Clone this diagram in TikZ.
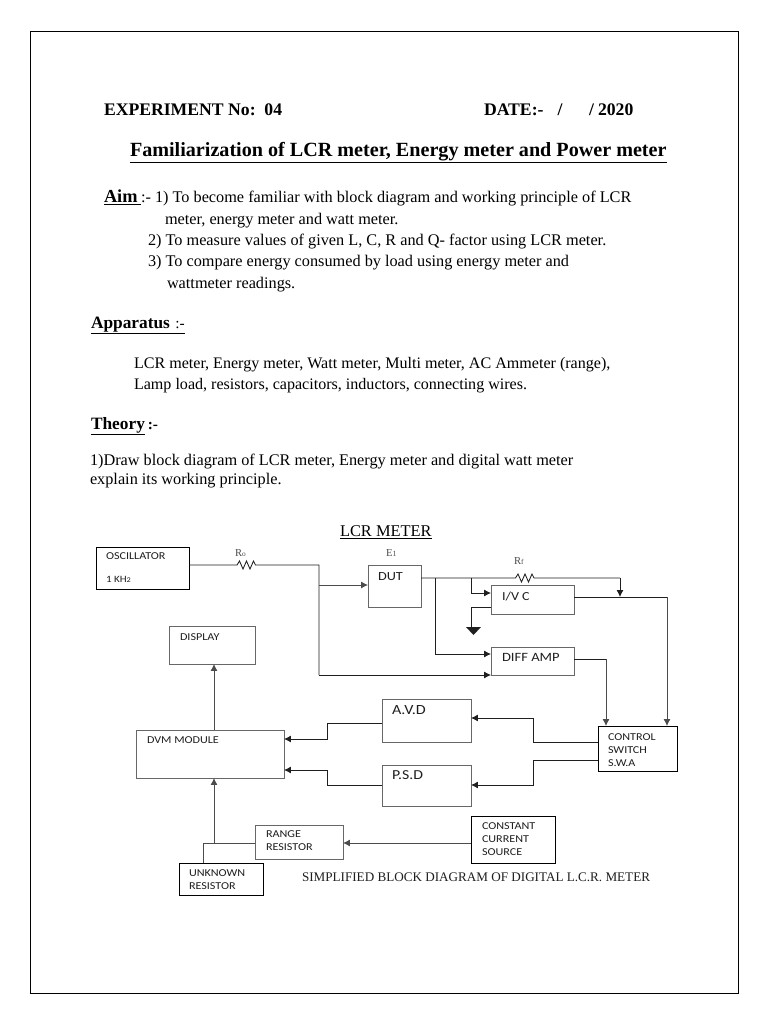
\documentclass[tikz,border=0pt]{standalone}
\usepackage{fontspec}
\setmainfont{Liberation Serif}
\newfontfamily\boxfont[FakeStretch=1.15]{Carlito}
\usetikzlibrary{arrows.meta}
\definecolor{inkc}{gray}{0.12}
\definecolor{softc}{gray}{0.3}
\newcommand{\bx}[6][blk]{\node[#1,minimum width={(#5-#3)*0.75pt},minimum height={(#6-#4)*0.75pt}] (#2) at ({(#3+#5)/2},{(#4+#6)/2}) {};}
\newcommand{\bodyf}{\fontsize{12.2pt}{14pt}\selectfont}
\tikzset{
  x=0.75pt,y=-0.75pt,
  blk/.style={draw=softc!85,line width=0.6pt,inner sep=0pt,outer sep=0pt},
  blkdark/.style={draw=black,line width=0.6pt,inner sep=0pt,outer sep=0pt},
  wire/.style={draw=inkc,line width=0.65pt},
  arr/.style={wire,-{Latex[length=5.2pt,width=5.2pt]}},
  txt/.style={anchor=base west,inner sep=0pt,outer sep=0pt,text=black},
  lbl/.style={anchor=base west,inner sep=0pt,outer sep=0pt,text=inkc,font=\boxfont\fontsize{7.9pt}{9pt}\selectfont},
}
\begin{document}
\begin{tikzpicture}
\useasboundingbox (0,0) rectangle (768,1024);
\fill[white] (0,0) rectangle (768,1024);
\draw[black,line width=0.6pt] (30,31) rectangle (738,993);
% headings
\node[txt,font=\bfseries\fontsize{13.25pt}{16pt}\selectfont] (h1) at (104,115) {EXPERIMENT No:\ \ 04};
\node[txt,font=\bfseries\fontsize{13.25pt}{16pt}\selectfont] (h2) at (484,115) {DATE:-\hspace{10.5pt}/\hspace{20pt}/\hspace{3pt}2020};
\node[txt,font=\bfseries\fontsize{15.1pt}{17pt}\selectfont] (h3) at (130,156) {\underline{Familiarization of LCR meter, Energy meter and Power meter}};
\node[txt,font=\bfseries\fontsize{13.75pt}{17pt}\selectfont] (aim) at (104,202) {\underline{Aim\,}};
\node[txt,font=\bodyf] (a1) at (141,202) {:- 1) To become familiar with block diagram and working principle of LCR};
\node[txt,font=\bodyf] (a2) at (165,224) {meter, energy meter and watt meter.};
\node[txt,font=\bodyf] (a3) at (148,245) {2) To measure values of given L, C, R and Q- factor using LCR meter.};
\node[txt,font=\bodyf] (a4) at (148,266) {3) To compare energy consumed by load using energy meter and};
\node[txt,font=\bodyf] (a5) at (167,288) {wattmeter readings.};
\node[txt,font=\bfseries\fontsize{13pt}{15pt}\selectfont] (app) at (91,328) {\underline{Apparatus\,\fontsize{11.5pt}{14pt}\selectfont{\mdseries\,:-}}};
\node[txt,font=\fontsize{12.05pt}{14pt}\selectfont] (b1) at (134,368) {LCR meter, Energy meter, Watt meter, Multi meter, AC Ammeter (range),};
\node[txt,font=\fontsize{12.05pt}{14pt}\selectfont] (b2) at (134,389) {Lamp load, resistors, capacitors, inductors, connecting wires.};
\node[txt,font=\bfseries\fontsize{13pt}{15pt}\selectfont] (th) at (91,429) {\underline{Theory}\,\fontsize{11.5pt}{14pt}\selectfont :-};
\node[txt,font=\bodyf] (c1) at (90,465) {1)Draw block diagram of LCR meter, Energy meter and digital watt meter};
\node[txt,font=\bodyf] (c2) at (90,484) {explain its working principle.};
% diagram title
\node[txt,font=\fontsize{12.3pt}{14pt}\selectfont] (t) at (340,536) {\underline{LCR METER}};
\node[txt,text=softc,font=\fontsize{8pt}{9pt}\selectfont] (e1) at (386,556) {E\fontsize{6pt}{7pt}\selectfont 1};
\node[txt,text=softc,font=\fontsize{8pt}{9pt}\selectfont] (ro) at (235,556) {R\fontsize{5.5pt}{6pt}\selectfont o};
\node[txt,text=softc,font=\fontsize{8pt}{9pt}\selectfont] (rf) at (514,564) {R\fontsize{5.5pt}{6pt}\selectfont f};
\node[txt,text=inkc,font=\fontsize{9.85pt}{11pt}\selectfont] (cap) at (302,881) {SIMPLIFIED BLOCK DIAGRAM OF DIGITAL L.C.R. METER};
% boxes
\bx[blkdark]{osc}{96}{547}{189}{589}
\bx{disp}{169}{626}{255}{664}
\bx{dut}{368}{565}{421}{607}
\bx{ivc}{491}{585}{574}{614}
\bx{diff}{491}{647}{574}{675}
\bx{dvm}{136}{730}{284}{778}
\bx{avd}{382}{699}{471}{742}
\bx{psd}{382}{765}{471}{806}
\bx[blkdark]{ctl}{598}{726}{677}{771}
\bx{rng}{255}{825}{343}{859}
\bx[blkdark]{ccs}{471}{816}{555}{863}
\bx[blkdark]{unk}{179}{863}{263}{895}
% labels
\node[lbl] (l1) at (106,559) {OSCILLATOR};
\node[lbl,font=\boxfont\fontsize{7.2pt}{8pt}\selectfont] (l2) at (106,582) {1 KH\fontsize{5.4pt}{6pt}\selectfont 2};
\node[lbl] (l3) at (180,640) {DISPLAY};
\node[lbl,font=\boxfont\fontsize{9.3pt}{10pt}\selectfont] (l4) at (378,580) {DUT};
\node[lbl,font=\boxfont\fontsize{9.2pt}{10pt}\selectfont] (l5) at (502,600) {I/V C};
\node[lbl,font=\boxfont\fontsize{9.5pt}{10pt}\selectfont] (l6) at (502,661) {DIFF AMP};
\node[lbl] (l7) at (147,743) {DVM MODULE};
\node[lbl,font=\boxfont\fontsize{10.5pt}{11pt}\selectfont] (l8) at (392,714) {A.V.D};
\node[lbl,font=\boxfont\fontsize{10.3pt}{11pt}\selectfont] (l9) at (392,779) {P.S.D};
\node[lbl] (l10) at (608,740) {CONTROL};
\node[lbl] (l11) at (608,753) {SWITCH};
\node[lbl] (l12) at (608,766) {S.W.A};
\node[lbl] (l13) at (266,837) {RANGE};
\node[lbl] (l14) at (266,850) {RESISTOR};
\node[lbl] (l15) at (482,829) {CONSTANT};
\node[lbl] (l16) at (482,842) {CURRENT};
\node[lbl] (l17) at (482,855) {SOURCE};
\node[lbl] (l18) at (189,876) {UNKNOWN};
\node[lbl] (l19) at (189,889) {RESISTOR};
% junctions
\coordinate (j1) at (319,565);
\coordinate (j2) at (319,585);
\coordinate (j3) at (319,675);
\coordinate (j4) at (421,578);
\coordinate (j5) at (435,578);
\coordinate (j6) at (435,654);
\coordinate (j7) at (471,578);
\coordinate (j8) at (471,593);
\coordinate (j9) at (620,578);
\coordinate (j10) at (620,597);
\coordinate (j11) at (667,597);
\coordinate (j12) at (471,607);
\coordinate (j13) at (471,627);
\coordinate (j14) at (606,659);
\coordinate (j15) at (533,742);
\coordinate (j16) at (533,718);
\coordinate (j17) at (533,760);
\coordinate (j18) at (533,785);
\coordinate (j19) at (327,723);
\coordinate (j20) at (327,739);
\coordinate (j21) at (327,785);
\coordinate (j22) at (327,770);
\coordinate (j23) at (214,843);
\coordinate (j24) at (203,843);
\coordinate (ra) at (235,565);
\coordinate (rb) at (257,565);
\coordinate (rc) at (514,578);
\coordinate (rd) at (536,578);
% connectors
\draw[wire] (osc.east |- ra) -- (ra) -- ++(2,0) -- ++(2.5,-4) -- ++(3.5,8) -- ++(3.5,-8) -- ++(3.5,8) -- ++(3.5,-8) -- ++(2,4) -- (rb) -- (j1) -- (j3);
\draw[arr] (j3) -- (diff.west |- j3);
\draw[arr,draw=softc] (j2) -- (dut.west |- j2);
\draw[wire] (dut.east |- j4) -- (rc) -- ++(1.5,0) -- ++(2.5,-4) -- ++(3.5,8) -- ++(3.5,-8) -- ++(3.5,8) -- ++(3.5,-8) -- ++(2,4) -- (rd) -- (j9);
\draw[arr] (j9) -- (j10);
\draw[wire] (ivc.east |- j10) -- (j11);
\draw[arr,draw=softc] (j11) -- (j11 |- ctl.north);
\draw[arr] (j5) -- (j6) -- (diff.west |- j6);
\draw[arr] (j7) -- (j8) -- (ivc.west |- j8);
\draw[wire] (ivc.west |- j12) -- (j12) -- (j13);
\fill[inkc] (466,627) -- (481,627) -- (473.5,635) -- cycle;
\draw[wire] (diff.east |- j14) -- (j14);
\draw[arr,draw=softc] (j14) -- (j14 |- ctl.north);
\draw[arr] (ctl.west |- j15) -- (j15) -- (j16) -- (avd.east |- j16);
\draw[arr] (ctl.west |- j17) -- (j17) -- (j18) -- (psd.east |- j18);
\draw[arr] (avd.west |- j19) -- (j19) -- (j20) -- (dvm.east |- j20);
\draw[arr] (psd.west |- j21) -- (j21) -- (j22) -- (dvm.east |- j22);
\draw[arr,draw=softc] (j23 |- dvm.north) -- (j23 |- disp.south);
\draw[arr,draw=softc] (rng.west |- j23) -- (j23) -- (j23 |- dvm.south);
\draw[wire,draw=softc] (j23) -- (j24) -- (j24 |- unk.north);
\draw[arr,draw=softc] (ccs.west |- j23) -- (rng.east |- j23);
\end{tikzpicture}
\end{document}
